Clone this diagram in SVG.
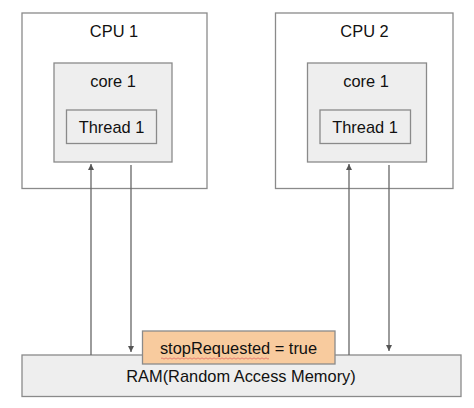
<svg xmlns="http://www.w3.org/2000/svg" width="474" height="408" viewBox="0 0 474 408">
<style>
.box{stroke:#8a8a8a;stroke-width:1.3}
.cpu{fill:#ffffff}
.core{fill:#eeeeee}
.ram{fill:#eeeeee}
.note{fill:#f8cb9e}
.t{font-family:"Liberation Sans",Arial,sans-serif;font-size:16.4px;fill:#111;text-anchor:middle}
.c{stroke:#666;stroke-width:1.3;fill:none}
</style>
<defs>
<marker id="ah" viewBox="0 0 10 10" refX="10" refY="5" markerWidth="6" markerHeight="8" markerUnits="userSpaceOnUse" orient="auto">
<path d="M0,0 L10,5 L0,10 z" fill="#555"/>
</marker>
</defs>
<rect width="474" height="408" fill="#fff"/>
<g id="cpu1">
<rect class="box cpu" x="22" y="13" width="185" height="175.5"/>
<text class="t" x="114" y="37">CPU 1</text>
</g>
<g id="cpu1-core1">
<rect class="box core" x="54" y="63" width="118" height="99"/>
<text class="t" x="113" y="87">core 1</text>
</g>
<g id="cpu1-thread1">
<rect class="box core" x="66.5" y="110" width="90" height="33.5"/>
<text class="t" x="111.5" y="133">Thread 1</text>
</g>
<g id="cpu2">
<rect class="box cpu" x="275.5" y="13" width="177.5" height="175.5"/>
<text class="t" x="364.5" y="37">CPU 2</text>
</g>
<g id="cpu2-core1">
<rect class="box core" x="307.5" y="63" width="119" height="99"/>
<text class="t" x="366" y="87">core 1</text>
</g>
<g id="cpu2-thread1">
<rect class="box core" x="320" y="110" width="90.5" height="33.5"/>
<text class="t" x="365" y="133">Thread 1</text>
</g>
<g id="ram">
<rect class="box ram" x="22" y="355" width="439" height="41.5"/>
<text class="t" x="241" y="382">RAM(Random Access Memory)</text>
</g>
<g id="connectors">
<line class="c" x1="91" y1="355" x2="91" y2="164" marker-end="url(#ah)"/>
<line class="c" x1="131" y1="165" x2="131" y2="352" marker-end="url(#ah)"/>
<line class="c" x1="349" y1="355" x2="349" y2="164" marker-end="url(#ah)"/>
<line class="c" x1="389" y1="165" x2="389" y2="351" marker-end="url(#ah)"/>
</g>
<g id="stopRequested">
<rect class="box note" x="142.5" y="331" width="192.5" height="33"/>
<text class="t" x="238.5" y="354">stopRequested = true</text>
<path d="M161,358.5 q1,-1.2 2,0 t2,0 t2,0 t2,0 t2,0 t2,0 t2,0 t2,0 t2,0 t2,0 t2,0 t2,0 t2,0 t2,0 t2,0 t2,0 t2,0 t2,0 t2,0 t2,0 t2,0 t2,0 t2,0 t2,0 t2,0 t2,0 t2,0 t2,0 t2,0 t2,0 t2,0 t2,0 t2,0 t2,0 t2,0 t2,0 t2,0 t2,0 t2,0 t2,0 t2,0 t2,0 t2,0 t2,0 t2,0 t2,0 t2,0 t2,0 t2,0 t2,0 t2,0 t2,0 t2,0 t2,0" fill="none" stroke="#e06060" stroke-width="0.7"/>
</g>
</svg>
